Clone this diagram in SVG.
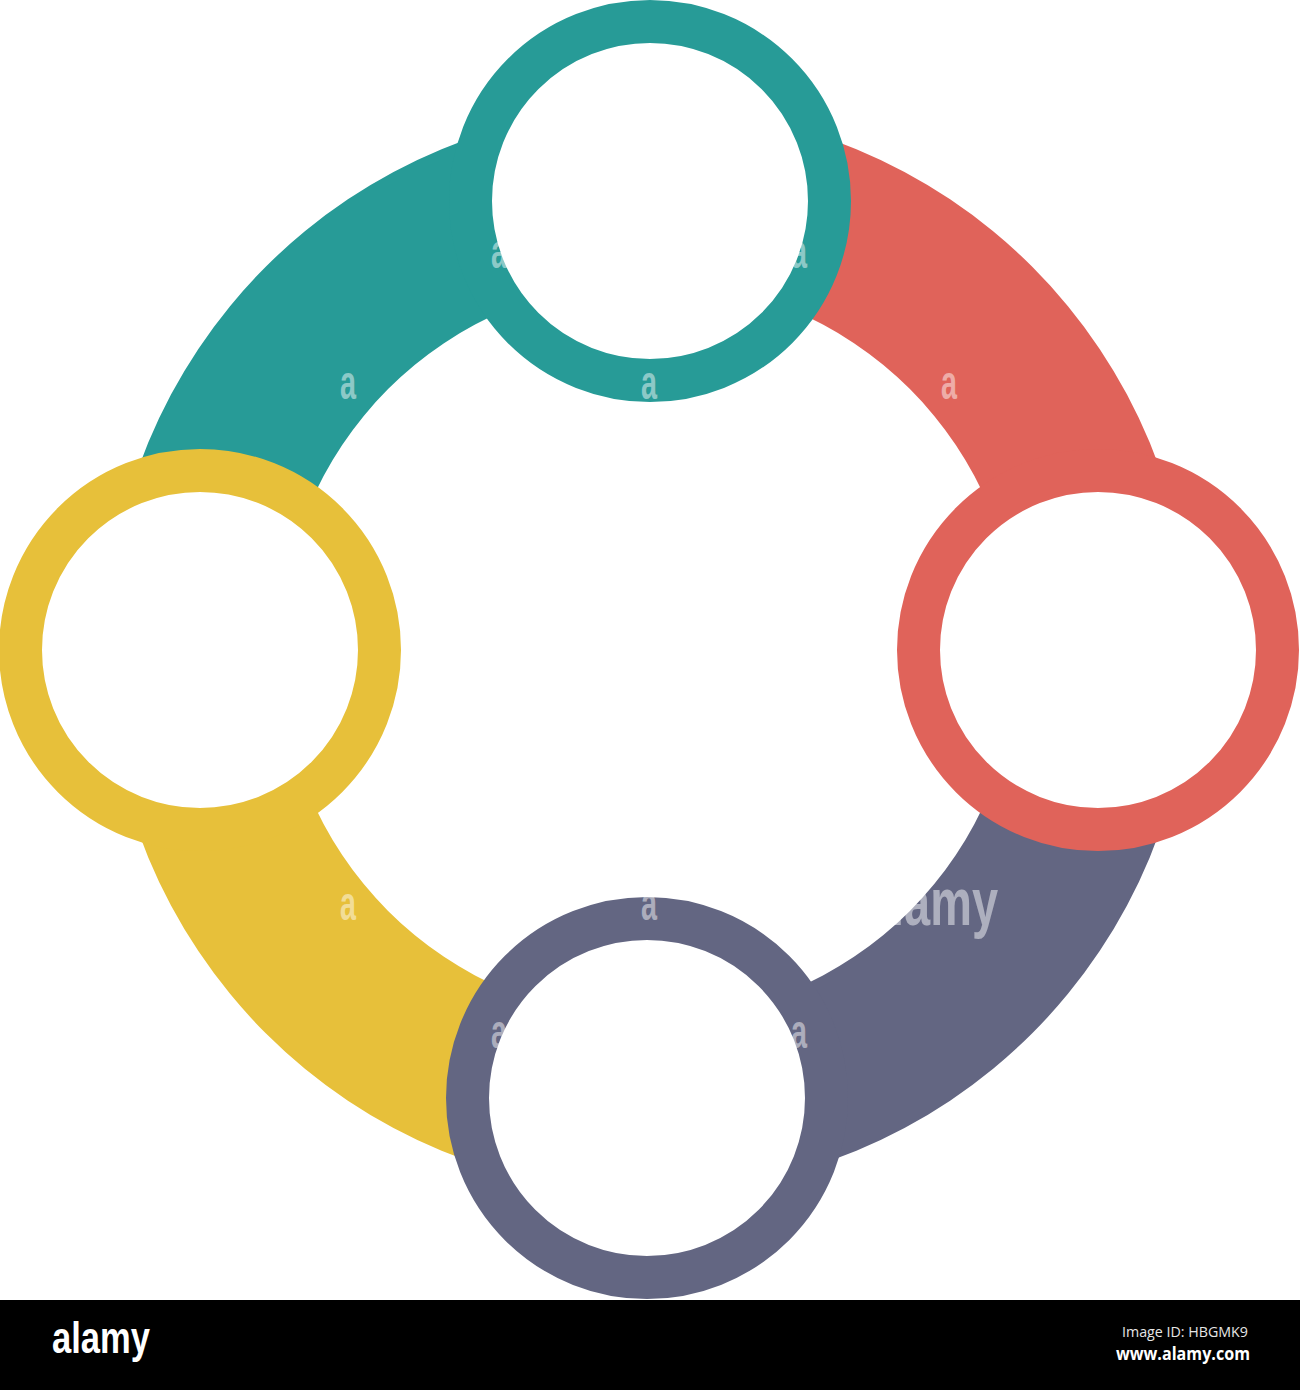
<svg xmlns="http://www.w3.org/2000/svg" width="1300" height="1390" viewBox="0 0 1300 1390">
  <style>
    .ring { stroke-width: 43; fill: #ffffff; }
    .wm { font-family: "Liberation Sans Narrow", "Liberation Sans", Arial, sans-serif; font-weight: bold; fill: #ffffff; fill-opacity: 0.48; }
    .id { font-family: "Open Sans", "Noto Sans", "DejaVu Sans", sans-serif; }
  </style>
  <rect x="0" y="0" width="1300" height="1390" fill="#ffffff"/>
  <g id="connectors">
    <path id="band-teal" fill="#279B97" d="M107,650 A542,542 0 0 1 649,108 L649,281 A369,369 0 0 0 280,650 Z"/>
    <path id="band-red" fill="#E0635A" d="M649,108 A542,542 0 0 1 1191,650 L1018,650 A369,369 0 0 0 649,281 Z"/>
    <path id="band-slate" fill="#636682" d="M1191,650 A542,542 0 0 1 649,1192 L649,1019 A369,369 0 0 0 1018,650 Z"/>
    <path id="band-yellow" fill="#E7C03A" d="M649,1192 A542,542 0 0 1 107,650 L280,650 A369,369 0 0 0 649,1019 Z"/>
  </g>
  <g id="node-top">
    <circle class="ring" cx="650" cy="201" r="179.5" stroke="#279B97"/>
  </g>
  <g id="node-right">
    <circle class="ring" cx="1098" cy="650" r="179.5" stroke="#E0635A"/>
  </g>
  <g id="node-bottom">
    <circle class="ring" cx="647" cy="1098" r="179.5" stroke="#636682"/>
  </g>
  <g id="node-left">
    <circle class="ring" cx="200" cy="650" r="179.5" stroke="#E7C03A"/>
  </g>
  <g id="watermark">
    <text class="wm" x="491" y="268" font-size="48" textLength="16" lengthAdjust="spacingAndGlyphs">a</text>
    <text class="wm" x="791" y="268" font-size="48" textLength="16" lengthAdjust="spacingAndGlyphs">a</text>
    <text class="wm" x="340" y="399" font-size="48" textLength="16" lengthAdjust="spacingAndGlyphs">a</text>
    <text class="wm" x="641" y="399" font-size="48" textLength="16" lengthAdjust="spacingAndGlyphs">a</text>
    <text class="wm" x="941" y="399" font-size="48" textLength="16" lengthAdjust="spacingAndGlyphs">a</text>
    <text class="wm" x="340" y="920" font-size="48" textLength="16" lengthAdjust="spacingAndGlyphs">a</text>
    <text class="wm" x="641" y="920" font-size="48" textLength="16" lengthAdjust="spacingAndGlyphs">a</text>
    <text class="wm" x="491" y="1048" font-size="48" textLength="16" lengthAdjust="spacingAndGlyphs">a</text>
    <text class="wm" x="791" y="1048" font-size="48" textLength="16" lengthAdjust="spacingAndGlyphs">a</text>
    <text class="wm" x="865" y="925" font-size="66" textLength="133" lengthAdjust="spacingAndGlyphs">alamy</text>
  </g>
  <g id="footer">
    <rect x="0" y="1300" width="1300" height="90" fill="#000000"/>
    <text x="52" y="1353" font-family="Liberation Sans Narrow, Liberation Sans, Arial, sans-serif" font-weight="bold" font-size="44" fill="#ffffff" textLength="98" lengthAdjust="spacingAndGlyphs">alamy</text>
    <text class="id" x="1122" y="1337" font-size="14.5" fill="#e6e6e6" textLength="126" lengthAdjust="spacingAndGlyphs">Image ID: HBGMK9</text>
    <text class="id" x="1116" y="1360" font-size="17" font-weight="bold" fill="#ffffff" textLength="134" lengthAdjust="spacingAndGlyphs">www.alamy.com</text>
  </g>
</svg>
